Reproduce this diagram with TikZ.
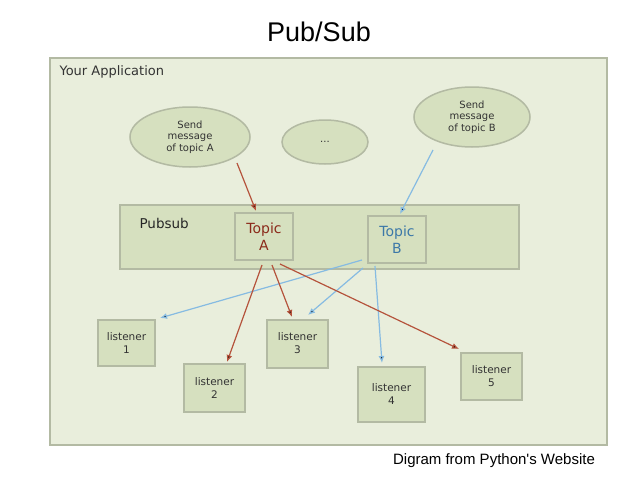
\documentclass[tikz,border=0pt]{standalone}
\usepackage{fontspec}
\setmainfont{DejaVu Sans}
\newfontfamily\lib{Liberation Sans}
\usetikzlibrary{shapes.geometric,arrows.meta}
\definecolor{bgc}{HTML}{E9EEDC}
\definecolor{boxc}{HTML}{D6E0BF}
\definecolor{edgec}{HTML}{B3BAA3}
\definecolor{redc}{HTML}{B5533C}
\definecolor{bluec}{HTML}{86BBE2}
\definecolor{tac}{HTML}{8B2A1A}
\definecolor{tbc}{HTML}{3C78A8}
\begin{document}
\begin{tikzpicture}[x=1pt,y=-1pt,
  box/.style={draw=edgec,line width=1.5pt,fill=boxc},
  ell/.style={ellipse,draw=edgec,line width=1.5pt,fill=boxc,font=\fontsize{10}{11.5}\selectfont,align=center,inner sep=0pt,text=black!80},
  lab/.style={font=\fontsize{10.5}{13}\selectfont,align=center,text=black!80},
  ra/.style={draw=redc,line width=1.2pt,-{Latex[length=7pt,width=6pt,fill=black]}},
  ba/.style={draw=bluec,line width=1.2pt,-{Latex[length=7pt,width=6pt,fill=black]}}]
\useasboundingbox (0,0) rectangle (638,479);
\fill[white] (0,0) rectangle (638,479);
\node[font=\lib\fontsize{27}{30}\selectfont] (title) at (319,32) {Pub/Sub};
\draw[draw=edgec,line width=1.5pt,fill=bgc] (50,58) rectangle (607,445);
\node[anchor=west,font=\fontsize{13}{15}\selectfont,text=black!80] (app) at (56,72) {Your Application};
\node[ell,minimum width=120pt,minimum height=60pt] (ea) at (190,137) {Send\\message\\of topic A};
\node[ell,minimum width=86pt,minimum height=44pt] (ed) at (325,142) {...};
\node[ell,minimum width=116pt,minimum height=60pt] (eb) at (472,117) {Send\\message\\of topic B};
\draw[box] (120,205) rectangle (519,269);
\node[anchor=west,font=\fontsize{13.5}{15}\selectfont,text=black!85] (ps) at (136,223) {Pubsub};
\draw[box] (235,213) rectangle (293,260);
\node[font=\fontsize{14}{17}\selectfont,align=center,text=tac] (ta) at (264,237) {Topic\\A};
\draw[box] (368,216) rectangle (426,263);
\node[font=\fontsize{14}{17}\selectfont,align=center,text=tbc] (tb) at (397,240) {Topic\\B};
\draw[box] (98,320) rectangle (155,366); \node[lab] (l1) at (126.5,343) {listener\\1};
\draw[box] (184,364) rectangle (245,412); \node[lab] (l2) at (214.5,388) {listener\\2};
\draw[box] (267,320) rectangle (328,368); \node[lab] (l3) at (297.5,343) {listener\\3};
\draw[box] (358,367) rectangle (425,422); \node[lab] (l4) at (391.5,394) {listener\\4};
\draw[box] (461,353) rectangle (522,400); \node[lab] (l5) at (491.5,376) {listener\\5};
\coordinate (a0) at (237,163); \coordinate (a1) at (256,211);
\coordinate (b0) at (433,150); \coordinate (b1) at (400,214);
\draw[ra] (a0) -- (a1);
\draw[ba] (b0) -- (b1);
\coordinate (s1) at (262,265); \coordinate (t1) at (227,362);
\coordinate (s2) at (272,265); \coordinate (t2) at (292,317);
\coordinate (s3) at (280,264); \coordinate (t3) at (459,349);
\coordinate (u1) at (362,260); \coordinate (v1) at (160,318);
\coordinate (u2) at (363,268); \coordinate (v2) at (308,315);
\coordinate (u3) at (375,266); \coordinate (v3) at (382,363);
\draw[ba] (u1) -- (v1);
\draw[ba] (u2) -- (v2);
\draw[ba] (u3) -- (v3);
\draw[ra] (s1) -- (t1);
\draw[ra] (s2) -- (t2);
\draw[ra] (s3) -- (t3);
\node[font=\lib\fontsize{15}{17}\selectfont] (cap) at (494,461) {Digram from Python's Website};
\end{tikzpicture}
\end{document}
